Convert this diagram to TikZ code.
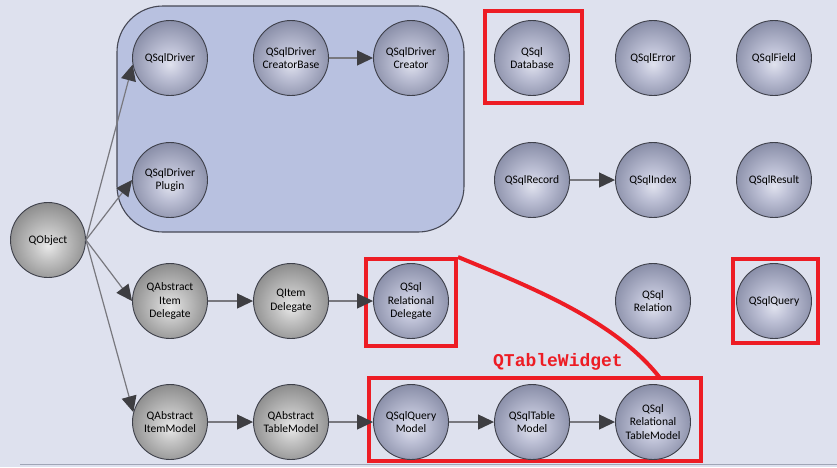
\documentclass[tikz,border=0pt]{standalone}
\usepackage{fontspec}
\setmainfont{Carlito}
\newfontfamily\redmono{Liberation Mono}
\usetikzlibrary{arrows.meta}
\definecolor{bgc}{RGB}{222,225,238}
\definecolor{groupfill}{RGB}{184,193,224}
\definecolor{groupdraw}{RGB}{70,72,85}
\definecolor{ballborder}{RGB}{62,64,74}
\definecolor{linec}{RGB}{120,120,126}
\definecolor{tipc}{RGB}{62,62,66}
\definecolor{hired}{RGB}{237,28,36}
\definecolor{botline}{RGB}{160,165,182}
\definecolor{bA}{RGB}{224,226,238}
\definecolor{bB}{RGB}{190,193,214}
\definecolor{bC}{RGB}{134,139,165}
\definecolor{bD}{RGB}{101,106,133}
\definecolor{bE}{RGB}{86,91,117}
\definecolor{gA}{RGB}{232,232,232}
\definecolor{gB}{RGB}{196,196,196}
\definecolor{gC}{RGB}{138,138,138}
\definecolor{gD}{RGB}{102,102,102}
\definecolor{gE}{RGB}{86,86,86}
\pgfdeclareradialshading{bluesphere}{\pgfpoint{0bp}{-4bp}}{color(0bp)=(bA); color(10bp)=(bB); color(28bp)=(bC); color(42bp)=(bD); color(54bp)=(bE)}
\pgfdeclareradialshading{greysphere}{\pgfpoint{0bp}{-4bp}}{color(0bp)=(gA); color(10bp)=(gB); color(28bp)=(gC); color(42bp)=(gD); color(54bp)=(gE)}
\tikzset{
  ball/.style={circle, minimum size=75pt, inner sep=0pt, draw=ballborder, line width=0.9pt,
    align=center, font=\fontsize{11.5}{13.8}\selectfont, text=black},
  blueball/.style={ball, shading=bluesphere},
  greyball/.style={ball, shading=greysphere},
  conn/.style={draw=linec, line width=1.2pt, -{Triangle[length=16pt,width=15pt,color=tipc]}},
  redbox/.style={draw=hired, line width=4pt, rectangle, inner sep=0pt},
  redline/.style={draw=hired, line width=4pt},
  groupbox/.style={draw=groupdraw, fill=groupfill, line width=1.1pt, rectangle, rounded corners=46pt, inner sep=0pt}
}
\begin{document}
\begin{tikzpicture}[x=1pt,y=-1pt]
\useasboundingbox (0,0) rectangle (837,467);
\fill[bgc] (0,0) rectangle (837,467);
\draw[draw=botline, line width=1pt] (20,464.5) -- (837,464.5);

% group
\node[groupbox, minimum width=347pt, minimum height=226pt] (group) at (290.5,119) {};

% red highlight boxes (behind circles)
\node[redbox, minimum width=97pt, minimum height=92pt] (rdb) at (533.5,57) {};
\node[redbox, minimum width=90pt, minimum height=87pt] (rdel) at (411,302.5) {};
\node[redbox, minimum width=85pt, minimum height=84pt] (rq) at (775.5,301) {};
\node[redbox, minimum width=332pt, minimum height=83pt] (rbot) at (535,419.5) {};

% nodes
\node[greyball] (QObject) at (48,240) {QObject};
\node[blueball] (QSqlDriver) at (170,58) {QSqlDriver};
\node[blueball] (CreatorBase) at (291,58) {QSqlDriver\\CreatorBase};
\node[blueball] (Creator) at (411,58) {QSqlDriver\\Creator};
\node[blueball] (Plugin) at (170,180) {QSqlDriver\\Plugin};
\node[blueball] (Database) at (532,58) {QSql\\Database};
\node[blueball] (Error) at (653,58) {QSqlError};
\node[blueball] (Field) at (774,58) {QSqlField};
\node[blueball] (Record) at (532,180) {QSqlRecord};
\node[blueball] (Index) at (653,180) {QSqlIndex};
\node[blueball] (Result) at (774,180) {QSqlResult};
\node[greyball] (AbsDelegate) at (170,301) {QAbstract\\Item\\Delegate};
\node[greyball] (ItemDelegate) at (291,301) {QItem\\Delegate};
\node[blueball] (RelDelegate) at (411,301) {QSql\\Relational\\Delegate};
\node[blueball] (Relation) at (653,301) {QSql\\Relation};
\node[blueball] (Query) at (774,301) {QSqlQuery};
\node[greyball] (AbsItemModel) at (170,422) {QAbstract\\ItemModel};
\node[greyball] (AbsTableModel) at (291,422) {QAbstract\\TableModel};
\node[blueball] (QueryModel) at (411,422) {QSqlQuery\\Model};
\node[blueball] (TableModel) at (532,422) {QSqlTable\\Model};
\node[blueball] (RelTableModel) at (653,422) {QSql\\Relational\\TableModel};

% connectors
\draw[conn] (QObject.east) -- (QSqlDriver.190);
\draw[conn] (QObject.east) -- (Plugin.west);
\draw[conn] (QObject.east) -- (AbsDelegate.west);
\draw[conn] (QObject.east) -- (AbsItemModel.165);
\draw[conn] (CreatorBase) -- (Creator);
\draw[conn] (Record) -- (Index);
\draw[conn] (AbsDelegate) -- (ItemDelegate);
\draw[conn] (ItemDelegate) -- (RelDelegate);
\draw[conn] (AbsItemModel) -- (AbsTableModel);
\draw[conn] (AbsTableModel) -- (QueryModel);
\draw[conn] (QueryModel) -- (TableModel);
\draw[conn] (TableModel) -- (RelTableModel);

% red curve and label
\coordinate (curveend) at (660,378);
\draw[redline] (rdel.north east) .. controls (528,286) and (615,320) .. (curveend);
\node[text=hired, font=\redmono\bfseries\fontsize{18}{20}\selectfont, inner sep=0pt] (qtw) at (558,362) {QTableWidget};
\end{tikzpicture}
\end{document}
